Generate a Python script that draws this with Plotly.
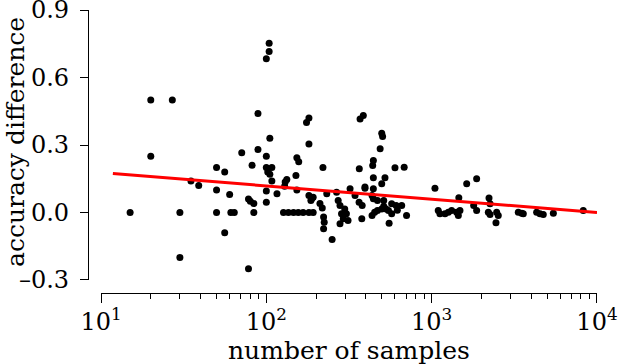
import plotly.graph_objects as go

# number of samples (x) and accuracy difference (y) for each point
n_samples = [
    15, 20, 20, 27, 30, 30, 35, 39, 50, 50, 50, 56, 56, 60, 61, 64, 71, 78, 80, 78,
    82, 84, 84, 89, 89,
    100, 104, 104, 100, 100, 108, 102, 105, 105, 108, 100, 100, 116,
    129, 133, 130, 151, 153, 157, 153, 127, 136, 146, 156, 167, 181, 192,
    175, 181, 181, 181, 188, 192, 186,
    211, 218, 220, 222, 224, 222, 232, 250, 266, 272, 279, 285, 292, 279, 298, 305, 312, 321,
    369, 386, 499, 505, 488, 444, 440, 365, 600, 682, 444, 522, 499, 395, 444, 344, 436, 444,
    513, 364, 380, 573, 659, 378, 436, 452, 470, 499, 548, 573, 553, 705, 513,
    470, 530, 610, 620, 395,
    1047, 1096, 1122, 1204, 1262, 1321, 1417, 1450, 1483, 1460, 1629, 1871, 1795, 1871,
    2223, 2255, 2202, 2255, 2473, 2529, 2449, 3342, 3505, 3584, 4315, 4519, 4732, 5446, 8260,
]
acc_diff = [
    0.0, 0.50, 0.25, 0.50, 0.0, -0.20, 0.14, 0.12, 0.20, 0.10, 0.0, 0.18, -0.09, 0.08, 0.0, 0.0, 0.265, 0.06, 0.05, -0.25,
    0.21, 0.04, 0.0, 0.44, 0.28,
    0.683, 0.716, 0.752, 0.25, 0.20, 0.20, 0.18, 0.17, 0.33, 0.14, 0.095, 0.046, 0.083,
    0.117, 0.147, 0.135, 0.164, 0.243, 0.225, 0.10, 0.0, 0.0, 0.0, 0.0, 0.0, 0.0, 0.0,
    0.40, 0.42, 0.305, 0.076, 0.061, 0.068, 0.053,
    0.04, 0.02, 0.20, -0.02, -0.043, -0.072, 0.083, -0.12, 0.09, 0.053, 0.031, -0.006, -0.028, -0.05, 0.016, -0.006, -0.036, 0.105,
    0.416, 0.431, 0.352, 0.338, 0.283, 0.231, 0.209, 0.194, 0.199, 0.201, 0.154, 0.154, 0.128, 0.108, 0.105, 0.076, 0.076, 0.061,
    0.053, 0.046, 0.031, 0.039, 0.031, -0.028, -0.013, 0.001, 0.009, 0.016, 0.009, -0.006, -0.048, -0.013, 0.028,
    0.053, 0.016, 0.031, 0.01, 0.113,
    0.108, 0.009, -0.006, -0.006, 0.001, 0.009, 0.001, -0.013, 0.009, 0.065, 0.128, 0.15, 0.031, 0.009,
    0.064, 0.039, 0.001, -0.009, 0.001, -0.013, -0.046, 0.001, -0.003, -0.006, 0.001, -0.006, -0.009, -0.003, 0.009,
]

# regression line end points
fit_x = [11.8, 10000]
fit_y = [0.173, 0.0]

x_tick_vals = [10, 100, 1000, 10000]
x_tick_text = ["10<sup>1</sup>", "10<sup>2</sup>", "10<sup>3</sup>", "10<sup>4</sup>"]
x_minor_vals = [m * 10 ** e for e in (1, 2, 3) for m in range(2, 10)]
y_tick_vals = [-0.3, 0.0, 0.3, 0.6, 0.9]
y_tick_text = ["\u20130.3", "0.0", "0.3", "0.6", "0.9"]
x_title = "number of samples"
y_title = "accuracy difference"

FONT = "DejaVu Serif"
TICK_SIZE = 24
TITLE_SIZE = 25

fig = go.Figure()
fig.add_trace(go.Scatter(
    x=n_samples, y=acc_diff, mode="markers",
    marker=dict(size=7, color="black", line=dict(width=0)),
    showlegend=False,
))
fig.add_trace(go.Scatter(
    x=fit_x, y=fit_y, mode="lines",
    line=dict(color="#ff0000", width=3),
    showlegend=False,
))

W, H = 618, 364
L, R, T, B = 88, 21, 10, 71
pw, ph = W - L - R, H - T - B

fig.update_layout(
    width=W, height=H,
    margin=dict(l=L, r=R, t=T, b=B, pad=0),
    paper_bgcolor="white", plot_bgcolor="white",
    font=dict(family=FONT, size=TICK_SIZE, color="black"),
    xaxis=dict(
        type="log", range=[1, 4.0001],
        domain=[(101 - L) / pw, 1], anchor="free", position=0,
        automargin=False,
        showline=True, linecolor="black", linewidth=1.3,
        showgrid=False, zeroline=False,
        tickmode="array", tickvals=x_tick_vals, ticktext=x_tick_text,
        ticks="outside", ticklen=9, tickwidth=1.3, tickcolor="black",
        ticklabeloverflow="allow", ticklabelstandoff=-2,
        minor=dict(ticks="outside", ticklen=5, tickwidth=1, tickcolor="black",
                   tickmode="array", tickvals=x_minor_vals, showgrid=False),
        tickfont=dict(size=TICK_SIZE),
    ),
    yaxis=dict(
        range=[-0.3001, 0.9001],
        domain=[(293 - 280) / ph, 1], anchor="free", position=0,
        automargin=False,
        showline=True, linecolor="black", linewidth=1.3,
        showgrid=False, zeroline=False,
        tickmode="array", tickvals=y_tick_vals, ticktext=y_tick_text,
        ticks="outside", ticklen=8, tickwidth=1.3, tickcolor="black",
        ticklabelstandoff=6, ticklabeloverflow="allow",
        tickfont=dict(size=TICK_SIZE),
    ),
    annotations=[
        dict(text=x_title, xref="paper", yref="paper",
             x=(349 - L) / pw, y=(293 - 350) / ph, xanchor="center", yanchor="middle",
             showarrow=False, font=dict(size=TITLE_SIZE)),
        dict(text=y_title, xref="paper", yref="paper", textangle=-90,
             x=(15 - L) / pw, y=(293 - 142) / ph, xanchor="center", yanchor="middle",
             showarrow=False, font=dict(size=TITLE_SIZE)),
    ],
)

fig.write_html(
    "out.html",
    config={"displayModeBar": False},
    post_script="document.body.style.margin='0';document.body.style.overflow='hidden';",
)
